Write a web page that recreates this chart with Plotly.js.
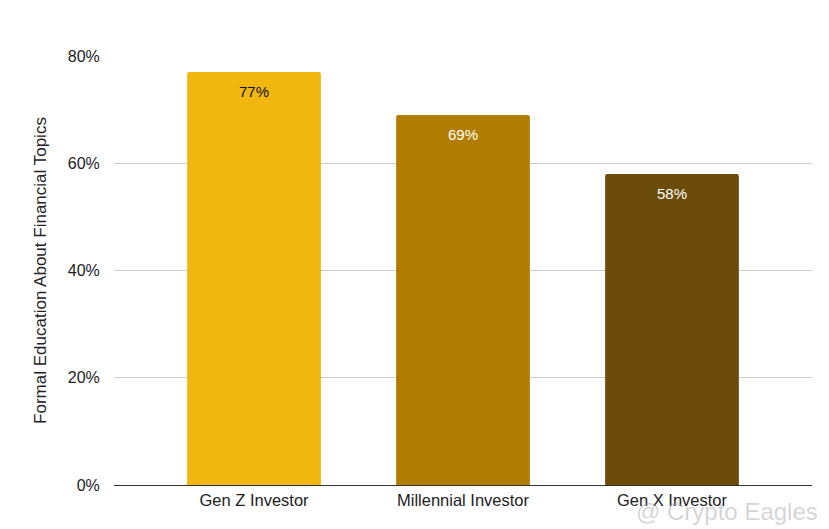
<!DOCTYPE html>
<html>
<head>
<meta charset="utf-8">
<script src="https://cdn.plot.ly/plotly-3.0.1.min.js"></script>
<style>
  html, body { margin: 0; padding: 0; background: #fff; }
  #chart { width: 829px; height: 529px; }
</style>
</head>
<body>
<div id="chart"></div>
<script>
const categories = ['Gen Z Investor', 'Millennial Investor', 'Gen X Investor']
const values = [77, 69, 58]
const bar_colors = ['#F0B70F', '#B07C02', '#6B4C0A']
const label_colors = ['#111111', '#ffffff', '#ffffff']

const trace = {
    type: 'bar',
    x: categories,
    y: values,
    width: 0.64,
    marker: {
        color: bar_colors,
        cornerradius: 2,
    },
    hoverinfo: 'none',
}

// value labels sit a little below the top of each bar
const value_labels = categories.map((c, i) => ({
    x: c,
    y: values[i],
    xref: 'x', yref: 'y',
    text: values[i] + '%',
    showarrow: false,
    yanchor: 'top',
    yshift: -9,
    font: { size: 15, color: label_colors[i] },
}))

Plotly.newPlot('chart', [trace], {
    width: 829,
    height: 529,
    showlegend: false,
    paper_bgcolor: '#ffffff',
    plot_bgcolor: '#ffffff',
    font: { family: 'Liberation Sans, Arial, sans-serif', size: 16, color: '#222' },
    margin: { t: 56, r: 17, b: 44, l: 114 },
    xaxis: {
        range: [-0.67, 2.67],
        showline: true,
        linecolor: '#333',
        linewidth: 1,
        ticks: '',
        tickfont: { size: 16.5, color: '#222' },
        showgrid: false,
        zeroline: false,
    },
    yaxis: {
        range: [0, 80],
        dtick: 20,
        ticksuffix: '%',
        tickfont: { size: 16, color: '#222' },
        gridcolor: '#cccccc',
        zeroline: false,
        ticks: 'outside',
        ticklen: 10,
        tickcolor: 'rgba(0,0,0,0)',
        title: {
            text: 'Formal Education About Financial Topics',
            font: { size: 17, color: '#222' },
            standoff: 16,
        },
    },
    annotations: value_labels.concat([{
        text: '@ Crypto Eagles',
        xref: 'paper', yref: 'paper',
        x: 1.012, y: -0.025,
        xanchor: 'right', yanchor: 'top',
        showarrow: false,
        font: { size: 24, color: 'rgba(160,160,160,0.45)' },
    }]),
}, { displayModeBar: false, staticPlot: true })
</script>
</body>
</html>
